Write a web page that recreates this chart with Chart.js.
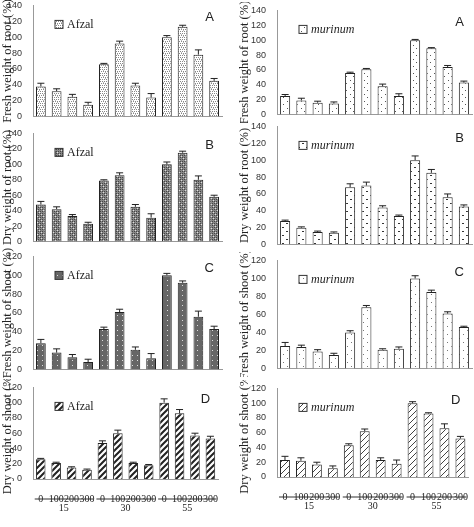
<!DOCTYPE html><html><head><meta charset="utf-8">
<script src="https://cdn.jsdelivr.net/npm/chart.js@4"></script>
<style>body{margin:0;background:#fff;width:474px;height:527px;position:relative;overflow:hidden}canvas{position:absolute}</style>
</head><body>
<script>
const categories=['0','100','200','300','0','100','200','300','0','100','200','300'];
const groups=['15','30','55'];
const afzalFreshRoot=[38,32,25,15,66,92,39,24,100,113,78,45];
const afzalFreshRootErr=[4,3,3,3,1,3,3,5,2,2,6,3];
const afzalDryRoot=[48,42,33,23,79,86,45,31,100,115,80,58];
const afzalDryRootErr=[4,3,2,2,1,3,3,5,3,2,5,2];
const afzalFreshShoot=[28,18,13,8,43,61,21,12,100,92,56,43];
const afzalFreshShootErr=[4,4,3,3,2,3,3,5,2,2,6,3];
const afzalDryShoot=[26,21,15,12,47,60,21,18,100,86,57,53];
const afzalDryShootErr=[1,1,1,1,3,4,1,1,5,5,3,3];
const murFreshRoot=[25,19,16,15,56,61,38,25,100,89,64,43];
const murFreshRootErr=[2,3,2,2,1,1,3,3,1,1,2,2];
const murDryRoot=[28,20,15,14,68,70,44,34,100,85,56,45];
const murDryRootErr=[1,1,1,1,4,4,2,1,5,4,4,2];
const murFreshShoot=[25,24,19,15,40,68,21,22,100,85,61,46];
const murFreshShootErr=[4,2,2,2,2,2,1,2,3,2,2,1];
const murDryShoot=[23,22,17,12,43,62,23,18,100,86,66,52];
const murDryShootErr=[5,4,3,3,2,3,3,5,2,1,6,3];

function pat(kind){
  const c=document.createElement('canvas');c.width=c.height=6;const g=c.getContext('2d');
  if(kind==='check'){g.fillStyle='#fff';g.fillRect(0,0,6,6);g.fillStyle='#888';for(let y=0;y<6;y+=2)for(let x=(y/2)%2;x<6;x+=2)g.fillRect(x,y,1,1);g.fillStyle='#bbb';g.fillRect(1,1,1,1);g.fillRect(3,3,1,1);}
  else if(kind==='dcheck'){g.fillStyle='#888';g.fillRect(0,0,6,6);g.fillStyle='#444';for(let y=0;y<6;y+=2)for(let x=0;x<6;x+=2)g.fillRect(x,y,1,1);g.fillStyle='#ddd';g.fillRect(1,1,1,1);g.fillRect(3,3,1,1);g.fillRect(5,5,1,1);}
  else if(kind==='darkdot'){c.width=c.height=5;g.fillStyle='#666';g.fillRect(0,0,5,5);g.fillStyle='#ddd';g.fillRect(2,2,1,1);}
  else if(kind==='stripe'){g.fillStyle='#fff';g.fillRect(0,0,6,6);g.strokeStyle='#222';g.lineWidth=2;g.beginPath();g.moveTo(-1,7);g.lineTo(7,-1);g.moveTo(-4,4);g.lineTo(4,-4);g.moveTo(2,10);g.lineTo(10,2);g.stroke();}
  else if(kind==='wdot'){c.width=c.height=7;g.fillStyle='#fff';g.fillRect(0,0,7,7);g.fillStyle='#555';g.fillRect(1,1,1,1);g.fillRect(4,4,1,1);}
  else if(kind==='dash'){c.width=c.height=8;g.fillStyle='#fff';g.fillRect(0,0,8,8);g.fillStyle='#333';g.fillRect(1,1,2,1);g.fillRect(5,5,2,1);}
  else if(kind==='sdot'){c.width=c.height=8;g.fillStyle='#fff';g.fillRect(0,0,8,8);g.fillStyle='#777';g.fillRect(2,2,1,1);g.fillRect(6,6,1,1);}
  else if(kind==='wave'){c.width=c.height=6;g.fillStyle='#fff';g.fillRect(0,0,6,6);g.strokeStyle='#444';g.lineWidth=1;g.beginPath();g.moveTo(0,6);g.lineTo(6,0);g.stroke();}
  return document.createElement('canvas').getContext('2d').createPattern(c,'repeat');
}

const errPlugin={id:'err',afterDatasetsDraw(ch){
  const g=ch.ctx,ys=ch.scales.y,o2=ch.options.plugins.err;
  g.save();g.strokeStyle='#222';g.lineWidth=1;
  const meta=ch.getDatasetMeta(0);
  o2.values.forEach((v,i)=>{const x=meta.data[i].x,y0=ys.getPixelForValue(v),y1=ys.getPixelForValue(v+o2.err[i]);
    g.beginPath();g.moveTo(x,y0);g.lineTo(x,y1);g.moveTo(x-3.5,y1);g.lineTo(x+3.5,y1);g.stroke();});
  const ca=ch.chartArea;
  g.fillStyle=ch.data.datasets[0].backgroundColor;g.fillRect(ca.left+22,ca.top+15,8,8);g.strokeStyle='#333';g.strokeRect(ca.left+22,ca.top+15,8,8);
  g.fillStyle='#222';g.font=(o2.italic?'italic ':'')+'12px "Liberation Serif"';g.textBaseline='middle';g.fillText(o2.name,ca.left+34,ca.top+19.5);
  g.font='13px "Liberation Sans"';g.textAlign='right';g.fillText(o2.letter,ca.right-8,ca.top+12);
  if(o2.bottom){g.textAlign='center';g.font='10px "Liberation Serif"';g.lineWidth=1.2;
    for(let k=0;k<3;k++){const l=meta.data[k*4].x-6,r=meta.data[k*4+3].x+6;const yy=ca.bottom+20;
      g.beginPath();g.moveTo(l,yy);g.lineTo(r,yy);g.stroke();g.fillText(groups[k],(l+r)/2,yy+9);}}
  g.restore();}};

function panel(left,top,w,h,axW,vals,err,yMax,title,fill,name,italic,letter,bottom){
  const cv=document.createElement('canvas');const H=h+(bottom?32:0);
  cv.width=w;cv.height=H;cv.style.left=left+'px';cv.style.top=top+'px';cv.style.width=w+'px';cv.style.height=H+'px';
  document.body.appendChild(cv);
  new Chart(cv,{type:'bar',data:{labels:categories,datasets:[{data:vals,backgroundColor:fill,borderColor:'#222',borderWidth:1,barPercentage:0.62,categoryPercentage:1}]},
    options:{responsive:false,animation:false,devicePixelRatio:1,layout:{padding:{top:0,right:2,bottom:bottom?22:0}},
      plugins:{legend:{display:false},tooltip:{enabled:false},err:{values:vals,err:err,name:name,italic:italic,letter:letter,bottom:bottom}},
      scales:{x:{grid:{display:false},border:{color:'#999'},ticks:{display:bottom,color:'#222',font:{family:'Liberation Serif',size:10},maxRotation:0,autoSkip:false,padding:6}},
        y:{min:0,max:yMax,afterFit(s){s.width=axW;},grid:{display:false},border:{color:'#999'},ticks:{stepSize:20,color:'#333',font:{family:'Liberation Sans',size:9}},
          title:{display:true,text:title,color:'#222',font:{family:'Liberation Serif',size:12.5},padding:0}}}},
    plugins:[errPlugin]});
}
panel(0,-3,224,128,33,afzalFreshRoot,afzalFreshRootErr,140,'Fresh weight of root (%)',pat('check'),'Afzal',false,'A',false);
panel(0,125,224,125,33,afzalDryRoot,afzalDryRootErr,140,'Dry weight of root (%)',pat('dcheck'),'Afzal',false,'B',false);
panel(0,248,224,130,33,afzalFreshShoot,afzalFreshShootErr,120,'Fresh weight of shoot (%)',pat('darkdot'),'Afzal',false,'C',false);
panel(0,379,224,122,33,afzalDryShoot,afzalDryShootErr,120,'Dry weight of shoot (%)',pat('stripe'),'Afzal',false,'D',true);
panel(237,2,237,121,40,murFreshRoot,murFreshRootErr,140,'Fresh weight of root (%)',pat('wdot'),'murinum',true,'A',false);
panel(237,118,237,135,40,murDryRoot,murDryRootErr,140,'Dry weight of root (%)',pat('dash'),'murinum',true,'B',false);
panel(237,252,237,125,40,murFreshShoot,murFreshShootErr,120,'Fresh weight of shoot (%)',pat('sdot'),'murinum',true,'C',false);
panel(237,380,237,119,40,murDryShoot,murDryShootErr,120,'Dry weight of shoot (%)',pat('wave'),'murinum',true,'D',true);
</script></body></html>
